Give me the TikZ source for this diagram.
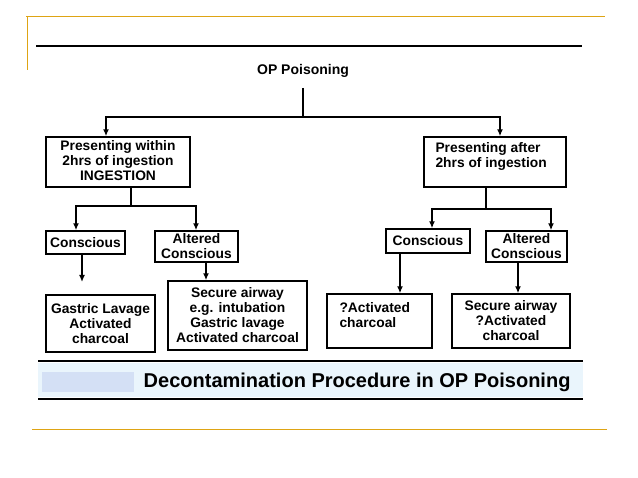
\documentclass[tikz,border=0pt]{standalone}
\usepackage{fontspec}
\setmainfont{Liberation Sans}
\usetikzlibrary{arrows.meta}
\definecolor{gold}{RGB}{222,164,20}
\definecolor{band}{RGB}{234,245,252}
\definecolor{inner}{RGB}{212,224,245}
\begin{document}
\begin{tikzpicture}[x=1pt,y=-1pt,
  tf/.style={font=\bfseries\fontsize{13.8}{15}\selectfont},
  box/.style={draw,line width=1.4pt,inner sep=0pt,tf},
  arr/.style={-{Latex[length=7pt,width=6pt]},line width=1.4pt},
  ln/.style={line width=1.4pt},
  orange/.style={draw=gold,line width=1pt}]
\useasboundingbox (0,0) rectangle (638,478);
\draw[orange] (26,17) -- (605,17);
\draw[orange] (27,17) -- (27,70);
\draw[line width=2.2pt] (36,46) -- (582,46);
\node[font=\bfseries\fontsize{14}{16}\selectfont] (op) at (303,71) {OP Poisoning};
\coordinate (opb) at (303,88);
\node[box,minimum width=144pt,minimum height=50pt,align=center] (pw) at (118,162) {};
\node[tf,align=center] at (118,161) {Presenting within\\2hrs of ingestion\\INGESTION};
\node[box,minimum width=142pt,minimum height=50pt] (pa) at (495,162) {};
\node[tf,align=left,anchor=north west] at (432,139) {Presenting after\\2hrs of ingestion};
\draw[ln] (opb) -- (303,117) -- (106,117);
\draw[ln] (303,117) -- (500,117);
\draw[arr] (106,116.3) -- (pw.north -| 106,0);
\draw[arr] (500,116.3) -- (pa.north -| 500,0);
% left sub
\node[box,minimum width=79pt,minimum height=23pt] (c1) at (85.5,242.5) {Conscious};
\node[box,minimum width=83pt,minimum height=31pt,align=center] (a1) at (196.5,246.5) {Altered\\Conscious};
\draw[ln] (pw.south -| 131,0) -- (131,206) -- (76,206);
\draw[ln] (131,206) -- (196,206);
\draw[arr] (76,205.3) -- (c1.north -| 76,0);
\draw[arr] (196,205.3) -- (a1.north -| 196,0);
\node[box,minimum width=109pt,minimum height=57pt,align=center] (g1) at (100.5,323.5) {Gastric Lavage\\Activated\\charcoal};
\node[box,minimum width=139pt,minimum height=69pt,align=center] (s1) at (237.5,315.5) {Secure airway\\e.g. intubation\\Gastric lavage\\Activated charcoal};
\coordinate (c1e) at (82,282);
\draw[arr] (c1.south -| 82,0) -- (c1e);
\draw[arr] (a1.south -| 206,0) -- (s1.north -| 206,0);
% right sub
\node[box,minimum width=84pt,minimum height=24pt] (c2) at (428,241) {Conscious};
\node[box,minimum width=81pt,minimum height=31pt,align=center] (a2) at (526.5,246.5) {Altered\\Conscious};
\draw[ln] (pa.south -| 486,0) -- (486,209) -- (432,209);
\draw[ln] (486,209) -- (551,209);
\draw[arr] (432,208.3) -- (c2.north -| 432,0);
\draw[arr] (551,208.3) -- (a2.north -| 551,0);
\node[box,minimum width=105pt,minimum height=54pt] (q2) at (379.5,321) {};
\node[tf,align=left,anchor=north west] at (336,299) {?Activated\\charcoal};
\node[box,minimum width=118pt,minimum height=54pt,align=center] (s2) at (511,321) {Secure airway\\?Activated\\charcoal};
\draw[arr] (c2.south -| 400,0) -- (q2.north -| 400,0);
\draw[arr] (a2.south -| 518,0) -- (s2.north -| 518,0);
% banner
\fill[band] (38,363) rectangle (583,397);
\fill[inner] (42,372) rectangle (134,392);
\draw[line width=2.4pt] (38,361) -- (583,361);
\draw[line width=2.4pt] (38,399) -- (583,399);
\node[anchor=east,font=\bfseries\fontsize{20}{22}\selectfont] (title) at (574,382) {Decontamination Procedure in OP Poisoning};
\draw[orange] (32,430) -- (607,430);
\end{tikzpicture}
\end{document}
